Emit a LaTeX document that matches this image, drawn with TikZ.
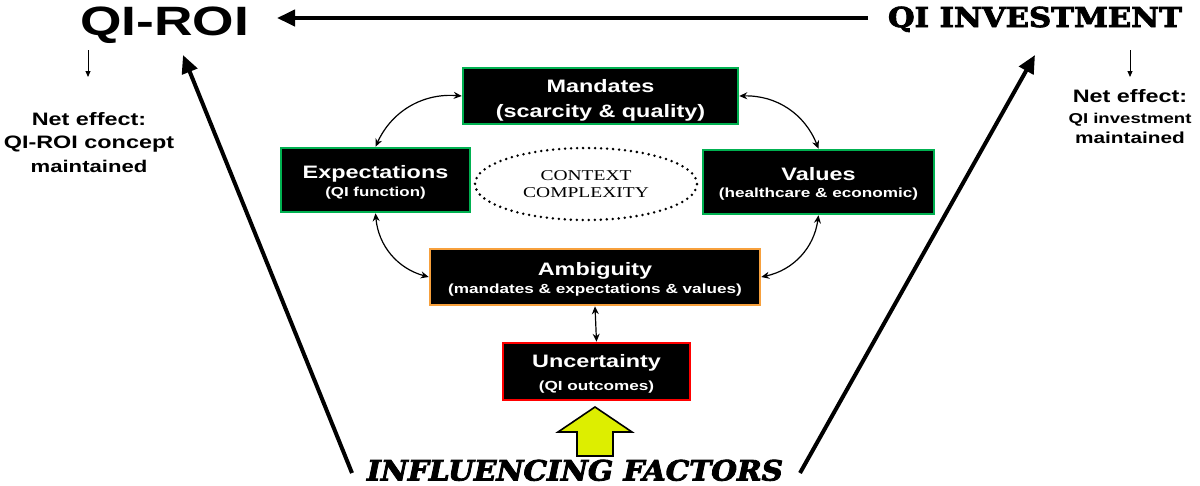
\documentclass[tikz,border=0pt]{standalone}
\usepackage{fontspec}
\setmainfont{Liberation Serif}
\newfontfamily\ar{Liberation Sans}[FakeStretch=1.3]
\newfontfamily\tnr{Liberation Serif}[FakeStretch=1.3]
\newfontfamily\slabB{DejaVu Serif Bold}[FakeBold=3]
\newfontfamily\slabBI{DejaVu Serif Bold Italic}[FakeBold=3]
\usetikzlibrary{arrows.meta,shapes.geometric}
\definecolor{bgreen}{RGB}{0,176,80}
\definecolor{borange}{RGB}{247,160,60}
\definecolor{bred}{RGB}{255,0,0}
\definecolor{yel}{RGB}{221,238,0}
\newcommand\tstrut[1]{\rule{0pt}{#1pt}}
\begin{document}
\begin{tikzpicture}[x=1pt,y=-1pt,
  box/.style={draw, fill=black, text=white, line width=2.5pt, inner sep=0pt, align=center, font=\ar\bfseries\fontsize{18}{20}\selectfont},
  big/.style={line width=4pt, -{Triangle[length=18pt,width=16pt]}},
  rel/.style={line width=1.2pt, {Stealth[length=8pt,width=7pt]}-{Stealth[length=8pt,width=7pt]}},
  thinarr/.style={line width=0.9pt, -{Triangle[length=6pt,width=5pt]}},
  lbl/.style={anchor=base, inner sep=0pt, font=\ar\bfseries}]
\useasboundingbox (0,0) rectangle (1200,485);

% titles
\node[lbl, font=\ar\bfseries\fontsize{41}{41}\selectfont] (roi) at (164.5,35) {QI-ROI};
\node[anchor=base, inner sep=0pt] (inv) at (1035,27) {\resizebox{294pt}{\height}{\slabB\fontsize{27.4}{28}\selectfont QI INVESTMENT}};

% net effects
\node[lbl, font=\ar\bfseries\fontsize{18}{20}\selectfont] (nl1) at (89,125) {Net effect:};
\node[lbl, font=\ar\bfseries\fontsize{18}{20}\selectfont] (nl2) at (89,148) {QI-ROI concept};
\node[lbl, font=\ar\bfseries\fontsize{17}{20}\selectfont] (nl3) at (89,172) {maintained};
\node[lbl, font=\ar\bfseries\fontsize{18}{20}\selectfont] (nr1) at (1130,102) {Net effect:};
\node[lbl, font=\ar\bfseries\fontsize{14.3}{20}\selectfont] (nr2) at (1130,123) {QI investment};
\node[lbl, font=\ar\bfseries\fontsize{16}{20}\selectfont] (nr3) at (1130,143) {maintained};

\coordinate (la1) at (88,50); \coordinate (la2) at (88,77);
\coordinate (ra1) at (1130,50); \coordinate (ra2) at (1130,77);
\draw[thinarr] (la1) -- (la2);
\draw[thinarr] (ra1) -- (ra2);

% boxes
\node[box, draw=bgreen, minimum width=275pt, minimum height=56pt] (M) at (600.5,96)
  {\tstrut{20.8}Mandates\\[5pt](scarcity \& quality)};
\node[box, draw=bgreen, minimum width=189pt, minimum height=64pt] (E) at (375.5,180)
  {\tstrut{16.8}Expectations\\[-2pt]{\fontsize{13}{14}\selectfont (QI function)}};
\node[box, draw=bgreen, minimum width=231pt, minimum height=64pt] (V) at (818.5,182)
  {\tstrut{15.8}Values\\[-3pt]{\fontsize{13.2}{14}\selectfont (healthcare \& economic)}};
\node[box, draw=borange, minimum width=330pt, minimum height=56pt] (A) at (595,277)
  {\tstrut{16.8}Ambiguity\\[-2pt]{\fontsize{13.2}{14}\selectfont (mandates \& expectations \& values)}};
\node[box, draw=bred, minimum width=187pt, minimum height=57pt] (U) at (596.5,371.5)
  {\tstrut{16.8}Uncertainty\\[3pt]{\fontsize{13.2}{14}\selectfont (QI outcomes)}};

\node[draw, ellipse, line width=2.8pt, dash pattern=on 0pt off 6pt, line cap=round,
  minimum width=222pt, minimum height=72pt, inner sep=0pt, align=center,
  font=\tnr\fontsize{15}{17}\selectfont] (C) at (586,184) {CONTEXT\\COMPLEXITY};

% relations
\draw[rel] (E.north) to[bend left=35] (M.west);
\draw[rel] (M.east) to[bend left=35] (V.north);
\draw[rel] (V.south) to[bend left=35] (A.east);
\draw[rel] (A.west) to[bend left=35] (E.south);
\draw[rel] (A.south) -- (U.north);

% yellow arrow
\draw[line width=1.6pt, fill=yel, line join=miter] (595,407) -- (632,432) -- (613,432) -- (613,456)
  -- (577,456) -- (577,432) -- (558,432) -- cycle;

\node[anchor=base, inner sep=0pt] (inf) at (575,480.5)
  {\resizebox{416pt}{\height}{\slabBI\fontsize{28}{30}\selectfont INFLUENCING FACTORS}};

% big arrows
\coordinate (t1) at (868,18); \coordinate (t2) at (277,18);
\coordinate (l1) at (352,473); \coordinate (l2) at (183,55);
\coordinate (r1) at (800,473); \coordinate (r2) at (1035,55);
\draw[big] (t1) -- (t2);
\draw[big] (l1) -- (l2);
\draw[big] (r1) -- (r2);
\end{tikzpicture}
\end{document}
